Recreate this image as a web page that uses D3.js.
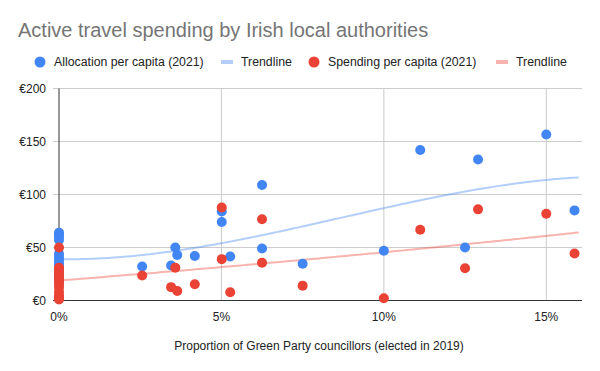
<!DOCTYPE html>
<html>
<head>
<meta charset="utf-8">
<script src="https://cdn.jsdelivr.net/npm/d3@7"></script>
<style>
  body { margin: 0; background: #fff; }
  svg { font-family: Arial, "Liberation Sans", sans-serif; }
</style>
</head>
<body>
<script>
const width = 600;
const height = 371;

// proportion of Green Party councillors (%), one per council
const greenShare = [
  0, 0, 0, 0, 0, 0, 0, 0, 0, 0, 0, 0, 0, 0,
  2.56, 3.45, 3.58, 3.64, 4.18, 5.01, 5.01, 5.27, 6.25, 6.25,
  7.5, 10.0, 11.12, 12.5, 12.9, 15.0, 15.87
];
// allocation per capita 2021 (EUR)
const allocation = [
  64, 62, 60, 57, 44, 41, 38, 35, 32, 29, 26, 23, 20, 17,
  32, 33, 50, 43, 42, 84, 74, 41.5, 109, 49,
  34.6, 47, 142, 50, 133, 156.6, 85
];
// spending per capita 2021 (EUR)
const spending = [
  50, 31, 29, 27, 25, 23, 21, 18, 15, 12, 8, 5, 3, 1,
  23.6, 12.6, 31, 9, 15.4, 87.7, 39, 7.8, 76.7, 35.6,
  14, 2.2, 66.7, 30.5, 86, 81.8, 44.3
];

const xTicks = [0, 5, 10, 15];
const yTicks = [0, 50, 100, 150, 200];

const blue = '#4285f4';
const red = '#ea4335';

const svg = d3.select('body').append('svg')
  .attr('width', width)
  .attr('height', height);

const x = d3.scaleLinear().domain([-0.185, 16.1]).range([53, 582]);
const y = d3.scaleLinear().domain([0, 200]).range([300.5, 88.5]);

// least squares polynomial, like the sheet trendline
const polyFit = (xs, ys, degree) => {
  const n = degree + 1;
  const A = d3.range(n).map(() => d3.range(n + 1).map(() => 0));
  xs.forEach((xv, k) => {
    for (let i = 0; i < n; i++) {
      for (let j = 0; j < n; j++) A[i][j] += Math.pow(xv, i + j);
      A[i][n] += ys[k] * Math.pow(xv, i);
    }
  });
  for (let i = 0; i < n; i++) {
    let p = i;
    for (let r = i + 1; r < n; r++) if (Math.abs(A[r][i]) > Math.abs(A[p][i])) p = r;
    [A[i], A[p]] = [A[p], A[i]];
    for (let r = 0; r < n; r++) {
      if (r === i) continue;
      const f = A[r][i] / A[i][i];
      for (let c = i; c <= n; c++) A[r][c] -= f * A[i][c];
    }
  }
  const coef = A.map((row, i) => row[n] / row[i]);
  return (xv) => coef.reduce((acc, c, i) => acc + c * Math.pow(xv, i), 0);
};

// gridlines
svg.append('g').selectAll('line.h').data(yTicks.slice(1)).enter().append('line')
  .attr('x1', 53).attr('x2', 582)
  .attr('y1', (d) => y(d)).attr('y2', (d) => y(d))
  .attr('stroke', '#cccccc').attr('stroke-width', 1);
svg.append('g').selectAll('line.v').data(xTicks.slice(1)).enter().append('line')
  .attr('x1', (d) => x(d)).attr('x2', (d) => x(d))
  .attr('y1', 88.5).attr('y2', 300.5)
  .attr('stroke', '#cccccc').attr('stroke-width', 1);

// axis baselines
svg.append('line').attr('x1', x(0)).attr('x2', x(0)).attr('y1', 88.5).attr('y2', 300.5)
  .attr('stroke', '#333').attr('stroke-width', 1);
svg.append('line').attr('x1', 53).attr('x2', 582).attr('y1', 300.5).attr('y2', 300.5)
  .attr('stroke', '#333').attr('stroke-width', 1);

// tick labels
svg.append('g').selectAll('text').data(yTicks).enter().append('text')
  .attr('x', 46).attr('y', (d) => y(d) + 4)
  .attr('text-anchor', 'end').attr('font-size', 12).attr('fill', '#222')
  .text((d) => `€${d}`);
svg.append('g').selectAll('text').data(xTicks).enter().append('text')
  .attr('x', (d) => x(d)).attr('y', 321)
  .attr('text-anchor', 'middle').attr('font-size', 12).attr('fill', '#222')
  .text((d) => `${d}%`);

svg.append('text').attr('x', 319).attr('y', 350)
  .attr('text-anchor', 'middle').attr('font-size', 12).attr('fill', '#222')
  .text('Proportion of Green Party councillors (elected in 2019)');

// trendlines
const trendXs = d3.range(0, 16.1, 0.1);
const line = d3.line().x((d) => x(d[0])).y((d) => y(d[1]));
const blueTrend = polyFit(greenShare, allocation, 3);
const redTrend = polyFit(greenShare, spending, 2);
svg.append('path').datum(trendXs.map((t) => [t, blueTrend(t)]))
  .attr('d', line).attr('fill', 'none').attr('stroke', blue)
  .attr('stroke-opacity', 0.4).attr('stroke-width', 2);
svg.append('path').datum(trendXs.map((t) => [t, redTrend(t)]))
  .attr('d', line).attr('fill', 'none').attr('stroke', red)
  .attr('stroke-opacity', 0.4).attr('stroke-width', 2);

// points
svg.append('g').selectAll('circle').data(greenShare).enter().append('circle')
  .attr('cx', (d) => x(d)).attr('cy', (d, i) => y(allocation[i]))
  .attr('r', 5).attr('fill', blue);
svg.append('g').selectAll('circle').data(greenShare).enter().append('circle')
  .attr('cx', (d) => x(d)).attr('cy', (d, i) => y(spending[i]))
  .attr('r', 5).attr('fill', red);

// title
svg.append('text').attr('x', 18).attr('y', 37)
  .attr('font-size', 20).attr('fill', '#757575')
  .text('Active travel spending by Irish local authorities');

// legend
const legend = [
  {kind: 'dot', color: blue, label: 'Allocation per capita (2021)', x: 40},
  {kind: 'line', color: blue, label: 'Trendline', x: 222},
  {kind: 'dot', color: red, label: 'Spending per capita (2021)', x: 314},
  {kind: 'line', color: red, label: 'Trendline', x: 497}
];
const lg = svg.append('g').selectAll('g').data(legend).enter().append('g')
  .attr('transform', (d) => `translate(${d.x},62)`);
lg.filter((d) => d.kind === 'dot').append('circle')
  .attr('r', 5.5).attr('fill', (d) => d.color);
lg.filter((d) => d.kind === 'line').append('line')
  .attr('x1', -1).attr('x2', 11).attr('stroke', (d) => d.color)
  .attr('stroke-opacity', 0.4).attr('stroke-width', 4);
lg.append('text')
  .attr('x', (d) => d.kind === 'dot' ? 14 : 19).attr('y', 4)
  .attr('font-size', 12.3).attr('fill', '#222')
  .text((d) => d.label);
</script>
</body>
</html>
